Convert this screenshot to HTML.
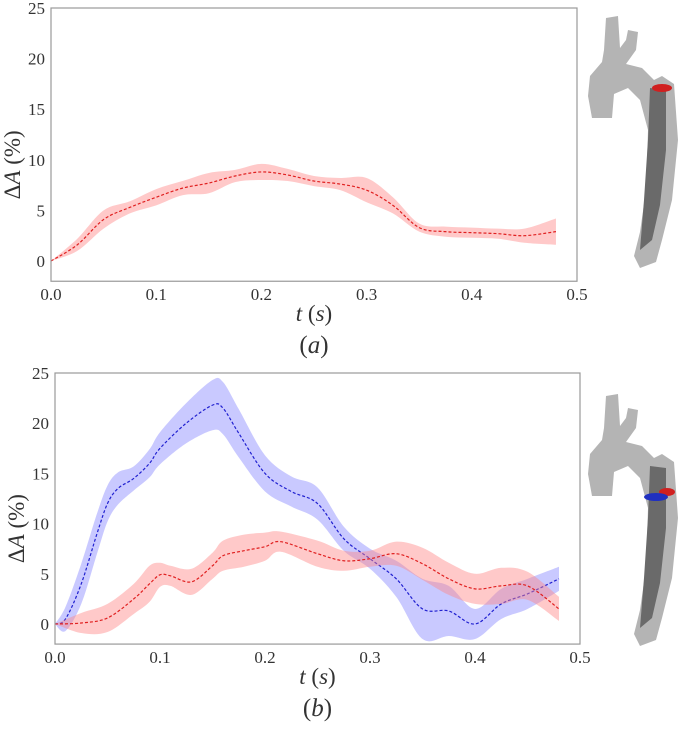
<!DOCTYPE html>
<html><head><meta charset="utf-8"><style>
body{margin:0;background:#fff;}
svg text{font-family:"Liberation Serif",serif;fill:#333;}
</style></head><body>
<svg id="fig" width="685" height="732" viewBox="0 0 685 732" xmlns="http://www.w3.org/2000/svg">
<defs>
<g id="aorta">
<path d="M606,18 L618,16 L620,48 L626,40 L628,30 L638,32 L636,50 L626,64 L642,68 L654,80 L662,76 L674,84 L678,140 L672,200 L662,240 L656,262 L640,268 L634,256 L640,232 L646,190 L648,130 L640,100 L628,88 L614,94 L612,118 L592,118 L588,96 L590,76 L602,62 L604,50 Z" fill="#b4b4b4"/>
<path d="M650,88 L666,90 L666,150 L660,205 L652,240 L640,250 L644,200 L648,140 Z" fill="#6a6a6a"/>
</g>
</defs>
<g id="top"></g>
<g id="bot"></g>
<g><use href="#aorta"/><ellipse cx="662" cy="88" rx="10" ry="4" fill="#d02020"/></g>
<g><use href="#aorta" transform="translate(0,378)"/><ellipse cx="667" cy="492" rx="8" ry="4" fill="#d02020"/><ellipse cx="656" cy="497" rx="12" ry="4" fill="#2030c0"/></g>
</svg>
<script>
const tA=[0,0.025,0.05,0.075,0.1,0.125,0.15,0.175,0.2,0.225,0.25,0.275,0.3,0.325,0.35,0.375,0.4,0.425,0.45,0.48];
const redA=[0,1.6,4.1,5.3,6.3,7.2,7.7,8.4,8.8,8.5,7.9,7.6,7.0,5.5,3.3,2.9,2.8,2.7,2.5,2.9];
const redAsd=[0,0.6,0.9,0.6,0.8,0.7,1.0,0.6,0.8,0.6,0.5,0.6,1.2,0.8,0.4,0.5,0.5,0.5,0.7,1.3];
const tB=[0,0.01,0.025,0.04,0.05,0.06,0.075,0.09,0.1,0.125,0.15,0.16,0.175,0.2,0.225,0.25,0.275,0.3,0.325,0.35,0.375,0.4,0.425,0.45,0.48];
const blueB=[0,0.5,4,9,12,13.5,14.5,16,17.5,20,21.8,21.5,19,15,13.2,12,8.5,6.5,4.5,1.5,1.3,0,2,3,4.5];
const blueBsd=[0,1.2,2,2,1.8,1.6,1.2,1.4,1.6,2,2.5,2.6,2.4,1.8,1.5,1.6,1.2,1,1.8,3,2.5,1.5,1.5,1.5,1.2];
const tR=[0,0.025,0.05,0.075,0.09,0.1,0.11,0.13,0.15,0.16,0.18,0.2,0.215,0.25,0.275,0.3,0.325,0.35,0.375,0.4,0.425,0.45,0.48];
const redB=[0,0.1,0.6,2.5,4,4.9,4.8,4.2,5.8,6.8,7.3,7.7,8.2,7,6.3,6.5,7,6,4.5,3.5,3.8,3.8,1.5];
const redBsd=[0,1.0,1.4,1.5,1.8,1.2,1.0,1.3,1.3,1.5,1.6,1.4,1.0,1.3,1.0,0.8,1.2,1.6,1.6,1.5,1.8,1.4,1.2];
const xTicks=[0,0.1,0.2,0.3,0.4,0.5];
const xTickLabels=["0.0","0.1","0.2","0.3","0.4","0.5"];
const yTicks=[0,5,10,15,20,25];
const NS="http://www.w3.org/2000/svg";
function mk(p,tag,at){const e=document.createElementNS(NS,tag);for(const k in at)e.setAttribute(k,at[k]);p.appendChild(e);return e;}
function spline(pts){let d="M"+pts[0][0]+","+pts[0][1];for(let i=0;i<pts.length-1;i++){const p0=pts[Math.max(i-1,0)],p1=pts[i],p2=pts[i+1],p3=pts[Math.min(i+2,pts.length-1)];d+=` C${p1[0]+(p2[0]-p0[0])/6},${p1[1]+(p2[1]-p0[1])/6} ${p2[0]-(p3[0]-p1[0])/6},${p2[1]-(p3[1]-p1[1])/6} ${p2[0]},${p2[1]}`;}return d;}
function chart(g,cfg){
 const X=v=>cfg.x0+(cfg.x1-cfg.x0)*v/0.5, Y=v=>cfg.y0+(cfg.y25-cfg.y0)*v/25;
 const bot=Y(-2), top=Y(25);
 cfg.series.forEach(s=>{
  const up=s.t.map((t,i)=>[X(t),Y(s.v[i]+s.sd[i])]);
  const lo=s.t.map((t,i)=>[X(t),Y(s.v[i]-s.sd[i])]).reverse();
  const band=mk(g,"path",{d:spline(up)+" L"+spline(lo).slice(1)+" Z",fill:s.fill,opacity:0.45});
  
  
  const ln=mk(g,"path",{d:spline(s.t.map((t,i)=>[X(t),Y(s.v[i])])),fill:"none",stroke:s.stroke,"stroke-width":1.2,"stroke-dasharray":"3,2"});
  
  
 });
 const fr=mk(g,"rect",{x:cfg.x0,y:top,width:cfg.x1-cfg.x0,height:bot-top,fill:"none",stroke:"#999","stroke-width":1.2});
 
 
 xTicks.forEach((v,i)=>{const t=mk(g,"text",{x:X(v),y:bot+19,"text-anchor":"middle","font-size":17});t.textContent=xTickLabels[i];
  
  });
 yTicks.forEach(v=>{const t=mk(g,"text",{x:cfg.x0-6,y:Y(v)+6,"text-anchor":"end","font-size":17});t.textContent=v;
  
  });
 const yl=mk(g,"text",{x:0,y:0,"font-size":23,"text-anchor":"middle",transform:`translate(${cfg.x0-31},${Y(9.5)}) rotate(-90)`});
 yl.innerHTML='Δ<tspan font-style="italic">A</tspan> (%)';
 
 
 const xl=mk(g,"text",{x:(cfg.x0+cfg.x1)/2,y:bot+40,"font-size":23,"text-anchor":"middle"});
 xl.innerHTML='<tspan font-style="italic">t</tspan> (<tspan font-style="italic">s</tspan>)';
 
 
 const cap=mk(g,"text",{x:(cfg.x0+cfg.x1)/2,y:bot+72,"font-size":25,"text-anchor":"middle"});
 cap.innerHTML='(<tspan font-style="italic">'+cfg.cap+'</tspan>)';
 
 
}
chart(document.getElementById("top"),{x0:51,x1:577,y0:261,y25:8,cap:"a",series:[{t:tA,v:redA,sd:redAsd,fill:"#f88",stroke:"#e02020",name:"red-series-a"}]});
chart(document.getElementById("bot"),{x0:55,x1:580,y0:624,y25:373,cap:"b",series:[{t:tB,v:blueB,sd:blueBsd,fill:"#8888ff",stroke:"#2020d0",name:"blue-series-b"},{t:tR,v:redB,sd:redBsd,fill:"#f88",stroke:"#e02020",name:"red-series-b"}]});
</script>
</body></html>
